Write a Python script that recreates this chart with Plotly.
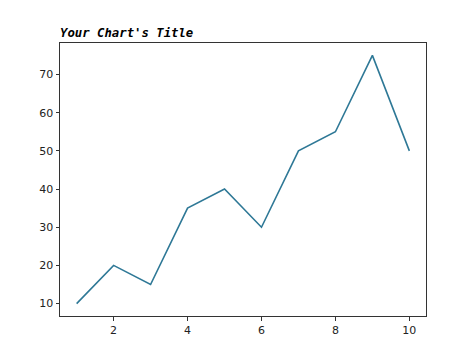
import plotly.graph_objects as go

x_values = [1, 2, 3, 4, 5, 6, 7, 8, 9, 10]
y_values = [10, 20, 15, 35, 40, 30, 50, 55, 75, 50]
x_ticks = [2, 4, 6, 8, 10]
y_ticks = [10, 20, 30, 40, 50, 60, 70]
title_text = "Your Chart's Title"

fig = go.Figure()
fig.add_trace(go.Scatter(x=x_values, y=y_values, mode="lines",
                         line=dict(color="#2e7896", width=1.6)))

W, H = 474, 355
left, right, top, bottom = 59.5, 426.5, 43, 316
fig.update_layout(
    width=W, height=H,
    margin=dict(l=left, r=W - right, t=top, b=H - bottom, pad=0),
    paper_bgcolor="white", plot_bgcolor="white",
    showlegend=False,
    font=dict(family="DejaVu Sans", size=11, color="#222222"),
    title=dict(text="<b><i>" + title_text + "</i></b>",
               font=dict(family="DejaVu Sans Mono", size=12.3, color="black"),
               x=0, xanchor="left", xref="paper",
               y=1 - 37 / H, yanchor="bottom"),
)
axis_common = dict(showgrid=False, zeroline=False, showline=True, mirror=True,
                   linecolor="#333333", linewidth=1, ticks="outside",
                   ticklen=3.5, tickwidth=1, tickcolor="#333333")
fig.update_xaxes(range=[0.55, 10.45], tickvals=x_ticks, **axis_common)
fig.update_yaxes(range=[6.75, 78.25], tickvals=y_ticks, **axis_common)

fig.write_html("out.html")
